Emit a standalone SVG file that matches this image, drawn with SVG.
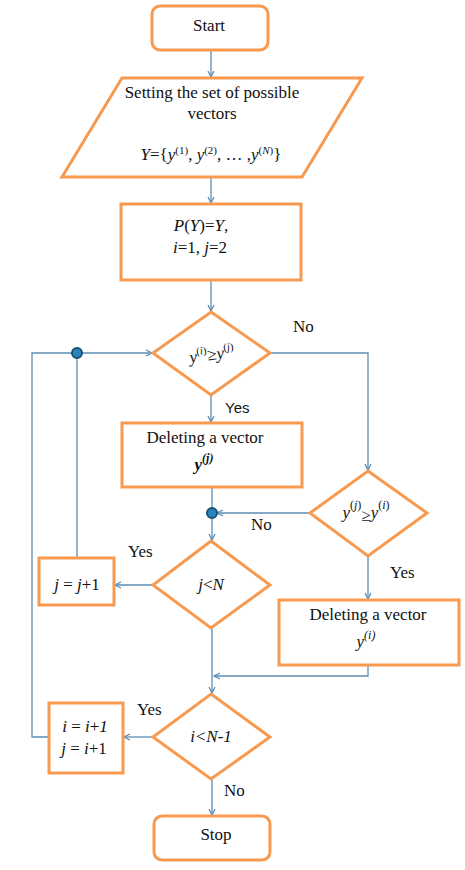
<svg xmlns="http://www.w3.org/2000/svg" width="465" height="870" viewBox="0 0 465 870">
<style>
.shape{fill:#fff;stroke:#F79A50;stroke-width:3}
.con{fill:none;stroke:#5B8DB5;stroke-width:1.3}
text{font-family:'Liberation Serif','DejaVu Serif',serif;font-size:17px;fill:#111}
.m{text-anchor:middle}
.i{font-style:italic}
text.s{font-family:'Liberation Sans',Arial,sans-serif;font-size:15px}
.dot{fill:#2A86BA;stroke:#17517A;stroke-width:2}
</style>
<defs>
<marker id="ah" markerWidth="8" markerHeight="8" refX="7" refY="4" orient="auto" markerUnits="userSpaceOnUse">
<path d="M1,1 L7,4 L1,7" fill="none" stroke="#5B8DB5" stroke-width="1.3"/>
</marker>
</defs>
<rect width="465" height="870" fill="#fff"/>
<g id="connectors">
<line class="con" x1="211" y1="51" x2="211" y2="77" marker-end="url(#ah)"/>
<line class="con" x1="211" y1="178" x2="211" y2="203" marker-end="url(#ah)"/>
<line class="con" x1="211" y1="281" x2="211" y2="311" marker-end="url(#ah)"/>
<polyline class="con" points="270,353 368,353 368,470" marker-end="url(#ah)"/>
<line class="con" x1="211" y1="395" x2="211" y2="422" marker-end="url(#ah)"/>
<line class="con" x1="212" y1="488" x2="212" y2="540" marker-end="url(#ah)"/>
<line class="con" x1="310" y1="513" x2="217" y2="513" marker-end="url(#ah)"/>
<line class="con" x1="368" y1="556" x2="368" y2="599" marker-end="url(#ah)"/>
<line class="con" x1="153" y1="585" x2="115" y2="585" marker-end="url(#ah)"/>
<line class="con" x1="77" y1="558" x2="77" y2="353"/>
<polyline class="con" points="49,737 32,737 32,353 152,353" marker-end="url(#ah)"/>
<line class="con" x1="212" y1="627" x2="212" y2="693" marker-end="url(#ah)"/>
<polyline class="con" points="368,666 368,676 214,676" marker-end="url(#ah)"/>
<line class="con" x1="153" y1="737" x2="124" y2="737" marker-end="url(#ah)"/>
<line class="con" x1="212" y1="779" x2="212" y2="815" marker-end="url(#ah)"/>
<circle class="dot" cx="77" cy="353" r="5"/>
<circle class="dot" cx="212" cy="513" r="5"/>
<text x="293" y="332">No</text>
<text class="s" x="225" y="413">Yes</text>
<text x="251" y="530">No</text>
<text x="390" y="578">Yes</text>
<text x="128" y="557">Yes</text>
<text x="137" y="715">Yes</text>
<text x="224" y="796">No</text>
</g>
<g id="start">
<rect class="shape" x="152" y="6" width="116" height="44" rx="8"/>
<text class="m" x="209" y="31">Start</text>
</g>
<g id="input">
<polygon class="shape" points="122,78 362,78 302,177 62,177"/>
<text class="m" x="212" y="98">Setting the set of possible</text>
<text class="m" x="212" y="119">vectors</text>
<text class="m" x="211" y="160"><tspan class="i">Y</tspan>={<tspan class="i">y</tspan><tspan font-size="11" dy="-6">(1)</tspan><tspan dy="6">, </tspan><tspan class="i">y</tspan><tspan font-size="11" dy="-6">(2)</tspan><tspan dy="6">, … ,</tspan><tspan class="i">y</tspan><tspan font-size="11" dy="-6">(<tspan class="i">N</tspan>)</tspan><tspan dy="6">}</tspan></text>
</g>
<g id="init">
<rect class="shape" x="121" y="204" width="180" height="76"/>
<text class="m" x="201" y="231"><tspan class="i">P</tspan>(<tspan class="i">Y</tspan>)=<tspan class="i">Y</tspan>,</text>
<text class="m" x="200" y="253"><tspan class="i">i</tspan>=1, <tspan class="i">j</tspan>=2</text>
</g>
<g id="cond1">
<polygon class="shape" points="211,312 270,353 211,395 153,353"/>
<text class="m" x="212" y="360" transform="rotate(-8 212 356)"><tspan class="i">y</tspan><tspan font-size="11" dy="-7">(<tspan class="i">i</tspan>)</tspan><tspan dy="7">≥</tspan><tspan class="i">y</tspan><tspan font-size="11" dy="-7">(<tspan class="i">j</tspan>)</tspan></text>
</g>
<g id="delete1">
<rect class="shape" x="122" y="423" width="180" height="64"/>
<text class="m" x="205" y="443">Deleting a vector</text>
<text class="m i" x="204" y="470" font-size="20" font-weight="bold"><tspan>y</tspan><tspan font-size="12" dy="-8">(j)</tspan></text>
</g>
<g id="cond2">
<polygon class="shape" points="368,471 427,513 368,556 310,513"/>
<text class="m" x="366" y="518" font-size="19"><tspan class="i">y</tspan><tspan font-size="12" dy="-9">(<tspan class="i">j</tspan>)</tspan><tspan dy="12">≥</tspan><tspan class="i" dy="-3">y</tspan><tspan font-size="12" dy="-9">(<tspan class="i">i</tspan>)</tspan></text>
</g>
<g id="cond3">
<polygon class="shape" points="211,541 270,585 211,628 153,585"/>
<text class="m" x="211" y="590"><tspan class="i">j</tspan>&lt;<tspan class="i">N</tspan></text>
</g>
<g id="incj">
<rect class="shape" x="39" y="558" width="75" height="47"/>
<text class="m" x="77" y="590"><tspan class="i">j</tspan> = <tspan class="i">j</tspan>+1</text>
</g>
<g id="delete2">
<rect class="shape" x="279" y="600" width="180" height="65"/>
<text class="m" x="368" y="620">Deleting a vector</text>
<text class="m i" x="366" y="647" font-size="20"><tspan>y</tspan><tspan font-size="12" dy="-8">(i)</tspan></text>
</g>
<g id="cond4">
<polygon class="shape" points="211,694 270,737 211,779 153,737"/>
<text class="m i" x="211" y="742">i&lt;N-1</text>
</g>
<g id="inci">
<rect class="shape" x="49" y="703" width="74" height="70"/>
<text class="m" x="85" y="732"><tspan class="i">i</tspan> = <tspan class="i">i</tspan>+<tspan class="i">1</tspan></text>
<text class="m" x="84" y="754"><tspan class="i">j</tspan> = <tspan class="i">i</tspan>+1</text>
</g>
<g id="stop">
<rect class="shape" x="154" y="816" width="116" height="44" rx="8"/>
<text class="m" x="216" y="840">Stop</text>
</g>
</svg>
